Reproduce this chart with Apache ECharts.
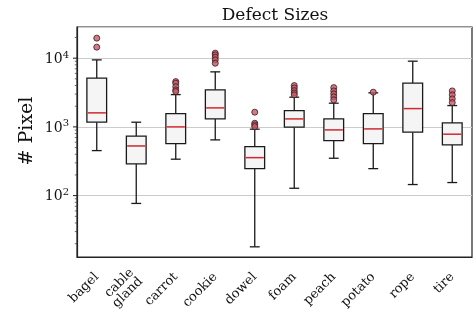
<!DOCTYPE html>
<html>
<head>
<meta charset="utf-8">
<script src="https://cdn.jsdelivr.net/npm/echarts@6/dist/echarts.min.js"></script>
<style>
  html, body { margin: 0; padding: 0; background: #fff; }
  #chart { width: 474px; height: 334px; }
</style>
</head>
<body>
<div id="chart"></div>
<script>
// Defect size distribution per object class (pixel counts, log scale)
const categories = ['bagel', 'cable\ngland', 'carrot', 'cookie', 'dowel', 'foam', 'peach', 'potato', 'rope', 'tire'];
const whiskerLow  = [452, 77, 339, 647, 18, 128, 350, 247, 145, 155];
const quartile1   = [1170, 289, 571, 1307, 247, 990, 632, 571, 837, 547];
const medians     = [1600, 528, 1000, 1890, 357, 1307, 904, 935, 1846, 783];
const quartile3   = [5120, 733, 1563, 3460, 517, 1727, 1307, 1563, 4325, 1143];
const whiskerHigh = [9440, 1170, 2950, 6320, 926, 2705, 2213, 3127, 9040, 2043];
const outliers = [
  [19550, 14450],
  [],
  [4560, 4320, 3850, 3450, 3270],
  [11830, 11170, 10330, 9440, 8440],
  [1637, 1130, 1070, 1010],
  [3990, 3690, 3370, 3120, 2925],
  [3730, 3340, 3020, 2730, 2470],
  [3200],
  [],
  [3340, 2925, 2560, 2260]
];
const yTickValues = [100, 1000, 10000];
const yMin = 12.8, yMax = 28400;

// minor ticks at 2..9 x 10^n inside the axis range
const yMinorTicks = [];
for (let p = 10; p <= 10000; p *= 10) {
  for (let m = 2; m <= 9; m++) {
    const v = m * p;
    if (v >= yMin && v <= yMax) yMinorTicks.push(v);
  }
}

const SERIF = 'DejaVu Serif';
const DARK = '#1a1a1a';

const boxData = categories.map((c, i) => [i, whiskerLow[i], quartile1[i], medians[i], quartile3[i], whiskerHigh[i]]);
const outlierData = [];
outliers.forEach((list, i) => list.forEach(v => outlierData.push([i, v])));
const tickData = yTickValues.map(v => [0, v, 1]).concat(yMinorTicks.map(v => [0, v, 0]));

function renderBox(params, api) {
  const i = api.value(0);
  const pLo = api.coord([i, api.value(1)]);
  const pQ1 = api.coord([i, api.value(2)]);
  const pMed = api.coord([i, api.value(3)]);
  const pQ3 = api.coord([i, api.value(4)]);
  const pHi = api.coord([i, api.value(5)]);
  const band = api.size([1, 0])[0];
  const bw = band * 0.5;
  const cw = bw * 0.5;
  const x = pQ1[0];
  const lineStyle = { stroke: DARK, lineWidth: 1.3 };
  return {
    type: 'group',
    children: [
      { type: 'line', shape: { x1: x, y1: pQ1[1], x2: x, y2: pLo[1] }, style: lineStyle },
      { type: 'line', shape: { x1: x, y1: pQ3[1], x2: x, y2: pHi[1] }, style: lineStyle },
      { type: 'line', shape: { x1: x - cw / 2, y1: pLo[1], x2: x + cw / 2, y2: pLo[1] }, style: lineStyle },
      { type: 'line', shape: { x1: x - cw / 2, y1: pHi[1], x2: x + cw / 2, y2: pHi[1] }, style: lineStyle },
      { type: 'rect', shape: { x: x - bw / 2, y: pQ3[1], width: bw, height: pQ1[1] - pQ3[1] },
        style: { fill: '#f5f5f5', stroke: DARK, lineWidth: 1.3 } },
      { type: 'line', shape: { x1: x - bw / 2 + 0.8, y1: pMed[1], x2: x + bw / 2 - 0.8, y2: pMed[1] },
        style: { stroke: '#d0282e', lineWidth: 1.5 } }
    ]
  };
}

// outward ticks on the log axis: long for decades, short for 2..9
function renderTick(params, api) {
  const p = api.coord([0, api.value(1)]);
  const xLeft = p[0] - api.size([1, 0])[0] / 2;
  const major = api.value(2) === 1;
  const len = major ? 4 : 2.2;
  return {
    type: 'line',
    shape: { x1: xLeft - len, y1: p[1], x2: xLeft, y2: p[1] },
    style: { stroke: major ? DARK : '#444', lineWidth: major ? 1 : 0.8 }
  };
}

const chart = echarts.init(document.getElementById('chart'), null, { renderer: 'canvas' });
chart.setOption({
  animation: false,
  backgroundColor: '#fff',
  title: {
    text: 'Defect Sizes',
    left: 270, top: 2, textAlign: 'center',
    textStyle: { fontFamily: SERIF, fontSize: 17, fontWeight: 'normal', color: '#111' }
  },
  graphic: [{
    type: 'text',
    x: 27, y: 131, rotation: Math.PI / 2,
    style: {
      text: '# Pixel', fontFamily: SERIF, fontSize: 19, fill: '#111',
      textAlign: 'center', textVerticalAlign: 'middle'
    }
  }],
  grid: {
    left: 77, right: 2, top: 27, bottom: 77,
    show: true, borderColor: '#222', borderWidth: 1.2, backgroundColor: 'transparent'
  },
  xAxis: {
    type: 'category',
    data: categories,
    boundaryGap: true,
    axisLine: { lineStyle: { color: '#222', width: 1.2 } },
    axisTick: { alignWithLabel: true, length: 4, lineStyle: { color: '#222' } },
    axisLabel: {
      rotate: 45, margin: 18, interval: 0, padding: [16, 0, 0, 0],
      fontFamily: SERIF, fontSize: 13, color: '#111', lineHeight: 12.5
    },
    splitLine: { show: false }
  },
  yAxis: {
    type: 'log', logBase: 10, min: yMin, max: yMax,
    axisLine: { show: true, lineStyle: { color: '#222', width: 1.2 } },
    axisTick: { show: false },
    axisLabel: {
      customValues: yTickValues, margin: 8,
      formatter: v => '{b|10}{s|' + Math.round(Math.log10(v)) + '}',
      rich: {
        b: { fontFamily: SERIF, fontSize: 14, color: '#111', verticalAlign: 'bottom', lineHeight: 16 },
        s: { fontFamily: SERIF, fontSize: 10, color: '#111', verticalAlign: 'top', lineHeight: 10, padding: [0, 0, 8, 0] }
      }
    },
    splitLine: { show: true, lineStyle: { color: '#cccccc', width: 1 } }
  },
  series: [
    {
      type: 'custom',
      renderItem: renderTick,
      encode: { x: 0, y: 1 },
      data: tickData,
      silent: true,
      clip: false,
      z: 1
    },
    {
      type: 'custom',
      renderItem: renderBox,
      encode: { x: 0, y: [1, 2, 3, 4, 5] },
      data: boxData,
      z: 2
    },
    {
      type: 'scatter',
      symbol: 'circle',
      symbolSize: 6,
      itemStyle: { color: '#c45a66', borderColor: '#3a1a1e', borderWidth: 1 },
      data: outlierData,
      z: 3
    }
  ]
});
</script>
</body>
</html>
